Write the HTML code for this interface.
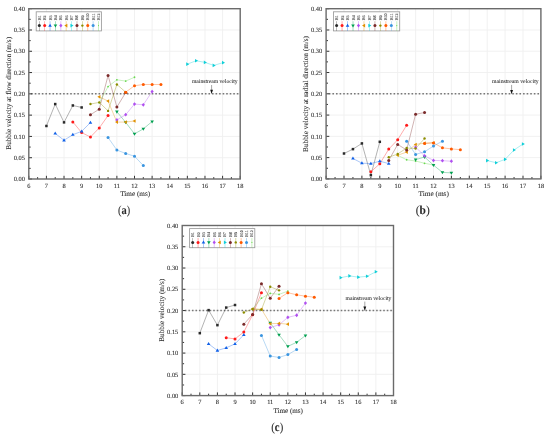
<!DOCTYPE html>
<html><head><meta charset="utf-8"><title>Bubble velocity</title>
<style>
html,body{margin:0;padding:0;background:#fff;width:550px;height:437px;overflow:hidden}
svg{display:block;text-rendering:geometricPrecision;filter:blur(0.35px)}
text{stroke:#2b2b2b;stroke-width:0.08px}
</style></head>
<body><svg width="550" height="437" viewBox="0 0 550 437" font-family="'Liberation Serif','Times New Roman',serif" fill="#2b2b2b" stroke-width="0">
<rect width="550" height="437" fill="#fff"/>
<path d="M46.42 8.7V179M64.03 8.7V179M81.65 8.7V179M99.27 8.7V179M116.88 8.7V179M134.5 8.7V179M152.12 8.7V179M169.73 8.7V179M187.35 8.7V179M204.97 8.7V179M222.58 8.7V179M28.8 157.71H240.2M28.8 136.43H240.2M28.8 115.14H240.2M28.8 93.85H240.2M28.8 72.56H240.2M28.8 51.27H240.2M28.8 29.99H240.2" stroke="#efefef" stroke-width="0.9" fill="none"/>
<line x1="31.2" y1="93.7" x2="238.4" y2="93.7" stroke="#787878" stroke-width="1.5" stroke-dasharray="1.6 1.945"/>
<path d="M46.42 125.99 L55.22 104.07 L64.03 122.38 L72.84 105.47 L81.65 107.47" stroke="#2a2a2a" stroke-width="0.6" fill="none" opacity="0.6"/>
<path d="M72.84 121.95 L81.65 132.59 L90.46 137.02 L99.27 127.91 L108.07 115.56" stroke="#ff1a1a" stroke-width="0.6" fill="none" opacity="0.6"/>
<path d="M55.22 133.44 L64.03 140.26 L72.84 134.72 L81.65 131.32 L90.46 122.59" stroke="#1060e8" stroke-width="0.6" fill="none" opacity="0.6"/>
<path d="M116.88 111.73 L125.69 122.38 L134.5 133.87 L143.31 128.89 L152.12 121.52" stroke="#00a050" stroke-width="0.6" fill="none" opacity="0.6"/>
<path d="M116.88 119.95 L125.69 114.71 L134.5 104.07 L143.31 104.79 L152.12 91.55" stroke="#b050f0" stroke-width="0.6" fill="none" opacity="0.6"/>
<path d="M99.27 96.83 L108.07 101.09 L116.88 122.08 L125.69 122.08 L134.5 120.97" stroke="#e09000" stroke-width="0.6" fill="none" opacity="0.6"/>
<path d="M187.35 64.13 L196.16 60.73 L204.97 62.43 L213.77 65.41 L223.11 62.64" stroke="#10cfd8" stroke-width="0.6" fill="none" opacity="0.6"/>
<path d="M90.46 114.71 L99.27 109.18 L108.07 75.54 L116.88 107.05 L125.69 92.57" stroke="#7a2a2a" stroke-width="0.6" fill="none" opacity="0.6"/>
<path d="M90.46 104.07 L99.27 102.37 L108.07 110.88 L116.88 84.48 L125.69 92.15" stroke="#8c8c00" stroke-width="0.6" fill="none" opacity="0.6"/>
<path d="M125.69 92.15 L134.5 85.76 L143.31 84.48 L152.12 84.48 L160.92 84.48" stroke="#ff5a00" stroke-width="0.6" fill="none" opacity="0.6"/>
<path d="M108.07 137.53 L116.88 150.05 L125.69 153.46 L134.5 156.22 L143.31 165.55" stroke="#3a95e0" stroke-width="0.6" fill="none" opacity="0.6"/>
<path d="M99.27 102.79 L108.07 86.61 L116.88 79.8 L125.69 81.08 L134.5 77.25" stroke="#6ad850" stroke-width="0.6" fill="none" opacity="0.6"/>
<circle cx="99.27" cy="102.79" r="0.9" fill="#6ad850"/>
<circle cx="108.07" cy="86.61" r="0.9" fill="#6ad850"/>
<circle cx="116.88" cy="79.8" r="0.9" fill="#6ad850"/>
<circle cx="125.69" cy="81.08" r="0.9" fill="#6ad850"/>
<circle cx="134.5" cy="77.25" r="0.9" fill="#6ad850"/>
<rect x="45.17" y="124.74" width="2.5" height="2.5" fill="#2a2a2a"/>
<rect x="53.97" y="102.82" width="2.5" height="2.5" fill="#2a2a2a"/>
<rect x="62.78" y="121.13" width="2.5" height="2.5" fill="#2a2a2a"/>
<rect x="71.59" y="104.22" width="2.5" height="2.5" fill="#2a2a2a"/>
<rect x="80.4" y="106.22" width="2.5" height="2.5" fill="#2a2a2a"/>
<circle cx="72.84" cy="121.95" r="1.5" fill="#ff1a1a"/>
<circle cx="81.65" cy="132.59" r="1.5" fill="#ff1a1a"/>
<circle cx="90.46" cy="137.02" r="1.5" fill="#ff1a1a"/>
<circle cx="99.27" cy="127.91" r="1.5" fill="#ff1a1a"/>
<circle cx="108.07" cy="115.56" r="1.5" fill="#ff1a1a"/>
<polygon points="55.22,131.54 57.03,134.58 53.42,134.58" fill="#1060e8"/>
<polygon points="64.03,138.36 65.84,141.4 62.23,141.4" fill="#1060e8"/>
<polygon points="72.84,132.82 74.65,135.86 71.04,135.86" fill="#1060e8"/>
<polygon points="81.65,129.42 83.45,132.46 79.84,132.46" fill="#1060e8"/>
<polygon points="90.46,120.69 92.26,123.73 88.65,123.73" fill="#1060e8"/>
<polygon points="116.88,113.63 118.69,110.59 115.08,110.59" fill="#00a050"/>
<polygon points="125.69,124.28 127.5,121.24 123.89,121.24" fill="#00a050"/>
<polygon points="134.5,135.77 136.31,132.73 132.69,132.73" fill="#00a050"/>
<polygon points="143.31,130.79 145.11,127.75 141.5,127.75" fill="#00a050"/>
<polygon points="152.12,123.42 153.92,120.38 150.31,120.38" fill="#00a050"/>
<polygon points="116.88,118.05 118.5,119.95 116.88,121.85 115.27,119.95" fill="#b050f0"/>
<polygon points="125.69,112.81 127.31,114.71 125.69,116.61 124.08,114.71" fill="#b050f0"/>
<polygon points="134.5,102.17 136.12,104.07 134.5,105.97 132.88,104.07" fill="#b050f0"/>
<polygon points="143.31,102.89 144.92,104.79 143.31,106.69 141.69,104.79" fill="#b050f0"/>
<polygon points="152.12,89.65 153.73,91.55 152.12,93.45 150.5,91.55" fill="#b050f0"/>
<polygon points="97.37,96.83 100.41,95.03 100.41,98.64" fill="#e09000"/>
<polygon points="106.17,101.09 109.21,99.28 109.21,102.89" fill="#e09000"/>
<polygon points="114.98,122.08 118.02,120.27 118.02,123.88" fill="#e09000"/>
<polygon points="123.79,122.08 126.83,120.27 126.83,123.88" fill="#e09000"/>
<polygon points="132.6,120.97 135.64,119.17 135.64,122.78" fill="#e09000"/>
<polygon points="189.25,64.13 186.21,62.33 186.21,65.94" fill="#10cfd8"/>
<polygon points="198.06,60.73 195.02,58.92 195.02,62.53" fill="#10cfd8"/>
<polygon points="206.87,62.43 203.83,60.62 203.83,64.23" fill="#10cfd8"/>
<polygon points="215.67,65.41 212.63,63.6 212.63,67.21" fill="#10cfd8"/>
<polygon points="225.01,62.64 221.97,60.84 221.97,64.45" fill="#10cfd8"/>
<circle cx="90.46" cy="114.71" r="1.5" fill="#7a2a2a"/>
<circle cx="99.27" cy="109.18" r="1.5" fill="#7a2a2a"/>
<circle cx="108.07" cy="75.54" r="1.5" fill="#7a2a2a"/>
<circle cx="116.88" cy="107.05" r="1.5" fill="#7a2a2a"/>
<circle cx="125.69" cy="92.57" r="1.5" fill="#7a2a2a"/>
<circle cx="90.46" cy="104.07" r="1.2" fill="#8c8c00"/>
<circle cx="99.27" cy="102.37" r="1.2" fill="#8c8c00"/>
<circle cx="108.07" cy="110.88" r="1.2" fill="#8c8c00"/>
<circle cx="116.88" cy="84.48" r="1.2" fill="#8c8c00"/>
<circle cx="125.69" cy="92.15" r="1.2" fill="#8c8c00"/>
<circle cx="125.69" cy="92.15" r="1.5" fill="#ff5a00"/>
<circle cx="134.5" cy="85.76" r="1.5" fill="#ff5a00"/>
<circle cx="143.31" cy="84.48" r="1.5" fill="#ff5a00"/>
<circle cx="152.12" cy="84.48" r="1.5" fill="#ff5a00"/>
<circle cx="160.92" cy="84.48" r="1.5" fill="#ff5a00"/>
<circle cx="108.07" cy="137.53" r="1.5" fill="#3a95e0"/>
<circle cx="116.88" cy="150.05" r="1.5" fill="#3a95e0"/>
<circle cx="125.69" cy="153.46" r="1.5" fill="#3a95e0"/>
<circle cx="134.5" cy="156.22" r="1.5" fill="#3a95e0"/>
<circle cx="143.31" cy="165.55" r="1.5" fill="#3a95e0"/>
<path d="M28.8 179V175.8M37.61 179V177.1M46.42 179V175.8M55.22 179V177.1M64.03 179V175.8M72.84 179V177.1M81.65 179V175.8M90.46 179V177.1M99.27 179V175.8M108.07 179V177.1M116.88 179V175.8M125.69 179V177.1M134.5 179V175.8M143.31 179V177.1M152.12 179V175.8M160.92 179V177.1M169.73 179V175.8M178.54 179V177.1M187.35 179V175.8M196.16 179V177.1M204.97 179V175.8M213.77 179V177.1M222.58 179V175.8M231.39 179V177.1M240.2 179V175.8M28.8 179H32M28.8 168.36H30.7M28.8 157.71H32M28.8 147.07H30.7M28.8 136.43H32M28.8 125.78H30.7M28.8 115.14H32M28.8 104.49H30.7M28.8 93.85H32M28.8 83.21H30.7M28.8 72.56H32M28.8 61.92H30.7M28.8 51.27H32M28.8 40.63H30.7M28.8 29.99H32M28.8 19.34H30.7M28.8 8.7H32" stroke="#2a2a2a" stroke-width="0.95" fill="none"/>
<rect x="28.8" y="8.7" width="211.4" height="170.3" fill="none" stroke="#6a6a6a" stroke-width="1.4"/>
<text x="24.9" y="181.2" text-anchor="end" font-size="6.4">0.00</text>
<text x="24.9" y="159.91" text-anchor="end" font-size="6.4">0.05</text>
<text x="24.9" y="138.62" text-anchor="end" font-size="6.4">0.10</text>
<text x="24.9" y="117.34" text-anchor="end" font-size="6.4">0.15</text>
<text x="24.9" y="96.05" text-anchor="end" font-size="6.4">0.20</text>
<text x="24.9" y="74.76" text-anchor="end" font-size="6.4">0.25</text>
<text x="24.9" y="53.47" text-anchor="end" font-size="6.4">0.30</text>
<text x="24.9" y="32.19" text-anchor="end" font-size="6.4">0.35</text>
<text x="24.9" y="10.9" text-anchor="end" font-size="6.4">0.40</text>
<text x="28.8" y="187.6" text-anchor="middle" font-size="6.4">6</text>
<text x="46.42" y="187.6" text-anchor="middle" font-size="6.4">7</text>
<text x="64.03" y="187.6" text-anchor="middle" font-size="6.4">8</text>
<text x="81.65" y="187.6" text-anchor="middle" font-size="6.4">9</text>
<text x="99.27" y="187.6" text-anchor="middle" font-size="6.4">10</text>
<text x="116.88" y="187.6" text-anchor="middle" font-size="6.4">11</text>
<text x="134.5" y="187.6" text-anchor="middle" font-size="6.4">12</text>
<text x="152.12" y="187.6" text-anchor="middle" font-size="6.4">13</text>
<text x="169.73" y="187.6" text-anchor="middle" font-size="6.4">14</text>
<text x="187.35" y="187.6" text-anchor="middle" font-size="6.4">15</text>
<text x="204.97" y="187.6" text-anchor="middle" font-size="6.4">16</text>
<text x="222.58" y="187.6" text-anchor="middle" font-size="6.4">17</text>
<text x="240.2" y="187.6" text-anchor="middle" font-size="6.4">18</text>
<text transform="translate(10.9,149.7) rotate(-90)" font-size="7.3" textLength="112.8" lengthAdjust="spacingAndGlyphs">Bubble velocity at flow direction (m/s)</text>
<text x="120.2" y="196" font-size="7.2" textLength="30" lengthAdjust="spacingAndGlyphs">Time (ms)</text>
<text x="118" y="214.4" font-size="12.2" textLength="12.1" lengthAdjust="spacingAndGlyphs">(<tspan font-weight="bold">a</tspan>)</text>
<text x="192" y="83" font-size="5.7" style="stroke-width:0.06px" textLength="45.6" lengthAdjust="spacingAndGlyphs">mainstream velocity</text>
<line x1="211.6" y1="85" x2="211.6" y2="90.7" stroke="#8a8a8a" stroke-width="0.75"/>
<path d="M210.2 89.8L213 89.8L211.6 94.1Z" fill="#151515"/>
<rect x="36.2" y="11.8" width="65.2" height="19.1" fill="#fff" stroke="#9a9a9a" stroke-width="0.85"/>
<line x1="39.3" y1="21.2" x2="39.3" y2="30.9" stroke="#2a2a2a" stroke-width="0.6" opacity="0.6"/>
<circle cx="39.3" cy="25.6" r="1.5" fill="#2a2a2a"/>
<text transform="translate(40.8,20.3) rotate(-90)" font-size="4.2" fill="#444">B1</text>
<line x1="44.68" y1="21.2" x2="44.68" y2="30.9" stroke="#ff1a1a" stroke-width="0.6" opacity="0.6"/>
<circle cx="44.68" cy="25.6" r="1.5" fill="#ff1a1a"/>
<text transform="translate(46.18,20.3) rotate(-90)" font-size="4.2" fill="#444">B2</text>
<line x1="50.06" y1="21.2" x2="50.06" y2="30.9" stroke="#1060e8" stroke-width="0.6" opacity="0.6"/>
<polygon points="50.06,23.7 51.87,26.74 48.26,26.74" fill="#1060e8"/>
<text transform="translate(51.56,20.3) rotate(-90)" font-size="4.2" fill="#444">B3</text>
<line x1="55.45" y1="21.2" x2="55.45" y2="30.9" stroke="#00a050" stroke-width="0.6" opacity="0.6"/>
<polygon points="55.45,27.5 57.25,24.46 53.64,24.46" fill="#00a050"/>
<text transform="translate(56.95,20.3) rotate(-90)" font-size="4.2" fill="#444">B4</text>
<line x1="60.83" y1="21.2" x2="60.83" y2="30.9" stroke="#b050f0" stroke-width="0.6" opacity="0.6"/>
<polygon points="60.83,23.7 62.44,25.6 60.83,27.5 59.21,25.6" fill="#b050f0"/>
<text transform="translate(62.33,20.3) rotate(-90)" font-size="4.2" fill="#444">B5</text>
<line x1="66.21" y1="21.2" x2="66.21" y2="30.9" stroke="#e09000" stroke-width="0.6" opacity="0.6"/>
<polygon points="64.31,25.6 67.35,23.8 67.35,27.41" fill="#e09000"/>
<text transform="translate(67.71,20.3) rotate(-90)" font-size="4.2" fill="#444">B6</text>
<line x1="71.59" y1="21.2" x2="71.59" y2="30.9" stroke="#10cfd8" stroke-width="0.6" opacity="0.6"/>
<polygon points="73.49,25.6 70.45,23.8 70.45,27.41" fill="#10cfd8"/>
<text transform="translate(73.09,20.3) rotate(-90)" font-size="4.2" fill="#444">B7</text>
<line x1="76.97" y1="21.2" x2="76.97" y2="30.9" stroke="#7a2a2a" stroke-width="0.6" opacity="0.6"/>
<circle cx="76.97" cy="25.6" r="1.5" fill="#7a2a2a"/>
<text transform="translate(78.47,20.3) rotate(-90)" font-size="4.2" fill="#444">B8</text>
<line x1="82.35" y1="21.2" x2="82.35" y2="30.9" stroke="#8c8c00" stroke-width="0.6" opacity="0.6"/>
<circle cx="82.35" cy="25.6" r="1.2" fill="#8c8c00"/>
<text transform="translate(83.85,20.3) rotate(-90)" font-size="4.2" fill="#444">B9</text>
<line x1="87.74" y1="21.2" x2="87.74" y2="30.9" stroke="#ff5a00" stroke-width="0.6" opacity="0.6"/>
<circle cx="87.74" cy="25.6" r="1.5" fill="#ff5a00"/>
<text transform="translate(89.24,20.3) rotate(-90)" font-size="4.2" fill="#444">B10</text>
<line x1="93.12" y1="21.2" x2="93.12" y2="30.9" stroke="#3a95e0" stroke-width="0.6" opacity="0.6"/>
<circle cx="93.12" cy="25.6" r="1.5" fill="#3a95e0"/>
<text transform="translate(94.62,20.3) rotate(-90)" font-size="4.2" fill="#444">B11</text>
<line x1="98.5" y1="21.2" x2="98.5" y2="30.9" stroke="#6ad850" stroke-width="0.6" opacity="0.6"/>
<circle cx="98.5" cy="25.6" r="0.54" fill="#6ad850"/>
<text transform="translate(100,20.3) rotate(-90)" font-size="4.2" fill="#444">B12</text>
<path d="M344 8.7V178.9M361.9 8.7V178.9M379.8 8.7V178.9M397.7 8.7V178.9M415.6 8.7V178.9M433.5 8.7V178.9M451.4 8.7V178.9M469.3 8.7V178.9M487.2 8.7V178.9M505.1 8.7V178.9M523 8.7V178.9M326.1 157.62H540.9M326.1 136.35H540.9M326.1 115.07H540.9M326.1 93.8H540.9M326.1 72.53H540.9M326.1 51.25H540.9M326.1 29.97H540.9" stroke="#efefef" stroke-width="0.9" fill="none"/>
<line x1="328.8" y1="93.8" x2="539" y2="93.8" stroke="#787878" stroke-width="1.5" stroke-dasharray="1.6 1.997"/>
<path d="M344 153.5 L352.95 149.12 L361.9 143.41 L370.85 175.2 L379.8 141.8" stroke="#2a2a2a" stroke-width="0.6" fill="none" opacity="0.6"/>
<path d="M370.85 171.79 L379.8 163.79 L388.75 149.12 L397.7 139.75 L406.65 125.29" stroke="#ff1a1a" stroke-width="0.6" fill="none" opacity="0.6"/>
<path d="M352.95 158.48 L361.9 163.16 L370.85 163.58 L379.8 161.2 L388.75 163.58" stroke="#1060e8" stroke-width="0.6" fill="none" opacity="0.6"/>
<path d="M415.6 159.67 L424.55 156.99 L433.5 165.16 L442.45 172.39 L451.4 172.86" stroke="#00a050" stroke-width="0.6" fill="none" opacity="0.6"/>
<path d="M415.6 147.2 L424.55 155.8 L433.5 160.39 L442.45 160.69 L451.4 161.2" stroke="#b050f0" stroke-width="0.6" fill="none" opacity="0.6"/>
<path d="M397.7 155.28 L406.65 152.09 L415.6 144.43 L424.55 143.16 L433.5 142.73" stroke="#e09000" stroke-width="0.6" fill="none" opacity="0.6"/>
<path d="M487.2 160.6 L496.15 162.73 L505.1 159.33 L514.05 149.97 L523 144.01" stroke="#10cfd8" stroke-width="0.6" fill="none" opacity="0.6"/>
<path d="M388.75 160.39 L397.7 144.43 L406.65 149.97 L415.6 114.22 L424.55 112.52" stroke="#7a2a2a" stroke-width="0.6" fill="none" opacity="0.6"/>
<path d="M388.75 157.2 L397.7 154.01 L406.65 148.01 L415.6 148.52 L424.55 138.48" stroke="#8c8c00" stroke-width="0.6" fill="none" opacity="0.6"/>
<path d="M424.55 143.5 L433.5 142.9 L442.45 147.84 L451.4 148.9 L460.35 149.71" stroke="#ff5a00" stroke-width="0.6" fill="none" opacity="0.6"/>
<path d="M406.65 141.2 L415.6 154.39 L424.55 151.8 L433.5 146.01 L442.45 141.2" stroke="#3a95e0" stroke-width="0.6" fill="none" opacity="0.6"/>
<path d="M397.7 155.28 L406.65 159.75 L415.6 161.03 L424.55 163.28 L433.5 164.99" stroke="#6ad850" stroke-width="0.6" fill="none" opacity="0.6"/>
<circle cx="397.7" cy="155.28" r="0.9" fill="#6ad850"/>
<circle cx="406.65" cy="159.75" r="0.9" fill="#6ad850"/>
<circle cx="415.6" cy="161.03" r="0.9" fill="#6ad850"/>
<circle cx="424.55" cy="163.28" r="0.9" fill="#6ad850"/>
<circle cx="433.5" cy="164.99" r="0.9" fill="#6ad850"/>
<rect x="342.75" y="152.25" width="2.5" height="2.5" fill="#2a2a2a"/>
<rect x="351.7" y="147.87" width="2.5" height="2.5" fill="#2a2a2a"/>
<rect x="360.65" y="142.16" width="2.5" height="2.5" fill="#2a2a2a"/>
<rect x="369.6" y="173.95" width="2.5" height="2.5" fill="#2a2a2a"/>
<rect x="378.55" y="140.55" width="2.5" height="2.5" fill="#2a2a2a"/>
<circle cx="370.85" cy="171.79" r="1.5" fill="#ff1a1a"/>
<circle cx="379.8" cy="163.79" r="1.5" fill="#ff1a1a"/>
<circle cx="388.75" cy="149.12" r="1.5" fill="#ff1a1a"/>
<circle cx="397.7" cy="139.75" r="1.5" fill="#ff1a1a"/>
<circle cx="406.65" cy="125.29" r="1.5" fill="#ff1a1a"/>
<polygon points="352.95,156.58 354.76,159.62 351.15,159.62" fill="#1060e8"/>
<polygon points="361.9,161.26 363.71,164.3 360.1,164.3" fill="#1060e8"/>
<polygon points="370.85,161.68 372.66,164.72 369.05,164.72" fill="#1060e8"/>
<polygon points="379.8,159.3 381.61,162.34 378,162.34" fill="#1060e8"/>
<polygon points="388.75,161.68 390.56,164.72 386.94,164.72" fill="#1060e8"/>
<polygon points="415.6,161.57 417.41,158.53 413.8,158.53" fill="#00a050"/>
<polygon points="424.55,158.89 426.36,155.85 422.75,155.85" fill="#00a050"/>
<polygon points="433.5,167.06 435.31,164.02 431.69,164.02" fill="#00a050"/>
<polygon points="442.45,174.29 444.25,171.25 440.64,171.25" fill="#00a050"/>
<polygon points="451.4,174.76 453.2,171.72 449.59,171.72" fill="#00a050"/>
<polygon points="415.6,145.3 417.22,147.2 415.6,149.1 413.99,147.2" fill="#b050f0"/>
<polygon points="424.55,153.9 426.17,155.8 424.55,157.7 422.94,155.8" fill="#b050f0"/>
<polygon points="433.5,158.49 435.12,160.39 433.5,162.29 431.88,160.39" fill="#b050f0"/>
<polygon points="442.45,158.79 444.06,160.69 442.45,162.59 440.83,160.69" fill="#b050f0"/>
<polygon points="451.4,159.3 453.01,161.2 451.4,163.1 449.78,161.2" fill="#b050f0"/>
<polygon points="395.8,155.28 398.84,153.48 398.84,157.09" fill="#e09000"/>
<polygon points="404.75,152.09 407.79,150.29 407.79,153.9" fill="#e09000"/>
<polygon points="413.7,144.43 416.74,142.63 416.74,146.24" fill="#e09000"/>
<polygon points="422.65,143.16 425.69,141.35 425.69,144.96" fill="#e09000"/>
<polygon points="431.6,142.73 434.64,140.93 434.64,144.54" fill="#e09000"/>
<polygon points="489.1,160.6 486.06,158.8 486.06,162.41" fill="#10cfd8"/>
<polygon points="498.05,162.73 495.01,160.93 495.01,164.54" fill="#10cfd8"/>
<polygon points="507,159.33 503.96,157.52 503.96,161.13" fill="#10cfd8"/>
<polygon points="515.95,149.97 512.91,148.16 512.91,151.77" fill="#10cfd8"/>
<polygon points="524.9,144.01 521.86,142.2 521.86,145.81" fill="#10cfd8"/>
<circle cx="388.75" cy="160.39" r="1.5" fill="#7a2a2a"/>
<circle cx="397.7" cy="144.43" r="1.5" fill="#7a2a2a"/>
<circle cx="406.65" cy="149.97" r="1.5" fill="#7a2a2a"/>
<circle cx="415.6" cy="114.22" r="1.5" fill="#7a2a2a"/>
<circle cx="424.55" cy="112.52" r="1.5" fill="#7a2a2a"/>
<circle cx="388.75" cy="157.2" r="1.2" fill="#8c8c00"/>
<circle cx="397.7" cy="154.01" r="1.2" fill="#8c8c00"/>
<circle cx="406.65" cy="148.01" r="1.2" fill="#8c8c00"/>
<circle cx="415.6" cy="148.52" r="1.2" fill="#8c8c00"/>
<circle cx="424.55" cy="138.48" r="1.2" fill="#8c8c00"/>
<circle cx="424.55" cy="143.5" r="1.5" fill="#ff5a00"/>
<circle cx="433.5" cy="142.9" r="1.5" fill="#ff5a00"/>
<circle cx="442.45" cy="147.84" r="1.5" fill="#ff5a00"/>
<circle cx="451.4" cy="148.9" r="1.5" fill="#ff5a00"/>
<circle cx="460.35" cy="149.71" r="1.5" fill="#ff5a00"/>
<circle cx="406.65" cy="141.2" r="1.5" fill="#3a95e0"/>
<circle cx="415.6" cy="154.39" r="1.5" fill="#3a95e0"/>
<circle cx="424.55" cy="151.8" r="1.5" fill="#3a95e0"/>
<circle cx="433.5" cy="146.01" r="1.5" fill="#3a95e0"/>
<circle cx="442.45" cy="141.2" r="1.5" fill="#3a95e0"/>
<path d="M326.1 178.9V175.7M335.05 178.9V177M344 178.9V175.7M352.95 178.9V177M361.9 178.9V175.7M370.85 178.9V177M379.8 178.9V175.7M388.75 178.9V177M397.7 178.9V175.7M406.65 178.9V177M415.6 178.9V175.7M424.55 178.9V177M433.5 178.9V175.7M442.45 178.9V177M451.4 178.9V175.7M460.35 178.9V177M469.3 178.9V175.7M478.25 178.9V177M487.2 178.9V175.7M496.15 178.9V177M505.1 178.9V175.7M514.05 178.9V177M523 178.9V175.7M531.95 178.9V177M540.9 178.9V175.7M326.1 178.9H329.3M326.1 168.26H328M326.1 157.62H329.3M326.1 146.99H328M326.1 136.35H329.3M326.1 125.71H328M326.1 115.07H329.3M326.1 104.44H328M326.1 93.8H329.3M326.1 83.16H328M326.1 72.53H329.3M326.1 61.89H328M326.1 51.25H329.3M326.1 40.61H328M326.1 29.97H329.3M326.1 19.34H328M326.1 8.7H329.3" stroke="#2a2a2a" stroke-width="0.95" fill="none"/>
<rect x="326.1" y="8.7" width="214.8" height="170.2" fill="none" stroke="#6a6a6a" stroke-width="1.4"/>
<text x="322.2" y="181.1" text-anchor="end" font-size="6.4">0.00</text>
<text x="322.2" y="159.82" text-anchor="end" font-size="6.4">0.05</text>
<text x="322.2" y="138.55" text-anchor="end" font-size="6.4">0.10</text>
<text x="322.2" y="117.27" text-anchor="end" font-size="6.4">0.15</text>
<text x="322.2" y="96" text-anchor="end" font-size="6.4">0.20</text>
<text x="322.2" y="74.73" text-anchor="end" font-size="6.4">0.25</text>
<text x="322.2" y="53.45" text-anchor="end" font-size="6.4">0.30</text>
<text x="322.2" y="32.17" text-anchor="end" font-size="6.4">0.35</text>
<text x="322.2" y="10.9" text-anchor="end" font-size="6.4">0.40</text>
<text x="326.1" y="187.5" text-anchor="middle" font-size="6.4">6</text>
<text x="344" y="187.5" text-anchor="middle" font-size="6.4">7</text>
<text x="361.9" y="187.5" text-anchor="middle" font-size="6.4">8</text>
<text x="379.8" y="187.5" text-anchor="middle" font-size="6.4">9</text>
<text x="397.7" y="187.5" text-anchor="middle" font-size="6.4">10</text>
<text x="415.6" y="187.5" text-anchor="middle" font-size="6.4">11</text>
<text x="433.5" y="187.5" text-anchor="middle" font-size="6.4">12</text>
<text x="451.4" y="187.5" text-anchor="middle" font-size="6.4">13</text>
<text x="469.3" y="187.5" text-anchor="middle" font-size="6.4">14</text>
<text x="487.2" y="187.5" text-anchor="middle" font-size="6.4">15</text>
<text x="505.1" y="187.5" text-anchor="middle" font-size="6.4">16</text>
<text x="523" y="187.5" text-anchor="middle" font-size="6.4">17</text>
<text x="540.9" y="187.5" text-anchor="middle" font-size="6.4">18</text>
<text transform="translate(307.9,151.9) rotate(-90)" font-size="7.3" textLength="115.9" lengthAdjust="spacingAndGlyphs">Bubble velocity at radial direction (m/s)</text>
<text x="418.5" y="195.9" font-size="7.2" textLength="30.4" lengthAdjust="spacingAndGlyphs">Time (ms)</text>
<text x="415.8" y="214.2" font-size="12.2" textLength="14" lengthAdjust="spacingAndGlyphs">(<tspan font-weight="bold">b</tspan>)</text>
<text x="492.1" y="82.9" font-size="5.7" style="stroke-width:0.06px" textLength="46.6" lengthAdjust="spacingAndGlyphs">mainstream velocity</text>
<line x1="511.6" y1="84.9" x2="511.6" y2="90.8" stroke="#8a8a8a" stroke-width="0.75"/>
<path d="M510.2 89.9L513 89.9L511.6 94.2Z" fill="#151515"/>
<rect x="333.5" y="11.8" width="66.2" height="19.1" fill="#fff" stroke="#9a9a9a" stroke-width="0.85"/>
<line x1="336.6" y1="21.2" x2="336.6" y2="30.9" stroke="#2a2a2a" stroke-width="0.6" opacity="0.6"/>
<circle cx="336.6" cy="25.6" r="1.5" fill="#2a2a2a"/>
<text transform="translate(338.1,20.3) rotate(-90)" font-size="4.2" fill="#444">B1</text>
<line x1="342.07" y1="21.2" x2="342.07" y2="30.9" stroke="#ff1a1a" stroke-width="0.6" opacity="0.6"/>
<circle cx="342.07" cy="25.6" r="1.5" fill="#ff1a1a"/>
<text transform="translate(343.57,20.3) rotate(-90)" font-size="4.2" fill="#444">B2</text>
<line x1="347.55" y1="21.2" x2="347.55" y2="30.9" stroke="#1060e8" stroke-width="0.6" opacity="0.6"/>
<polygon points="347.55,23.7 349.35,26.74 345.74,26.74" fill="#1060e8"/>
<text transform="translate(349.05,20.3) rotate(-90)" font-size="4.2" fill="#444">B3</text>
<line x1="353.02" y1="21.2" x2="353.02" y2="30.9" stroke="#00a050" stroke-width="0.6" opacity="0.6"/>
<polygon points="353.02,27.5 354.82,24.46 351.21,24.46" fill="#00a050"/>
<text transform="translate(354.52,20.3) rotate(-90)" font-size="4.2" fill="#444">B4</text>
<line x1="358.49" y1="21.2" x2="358.49" y2="30.9" stroke="#b050f0" stroke-width="0.6" opacity="0.6"/>
<polygon points="358.49,23.7 360.11,25.6 358.49,27.5 356.88,25.6" fill="#b050f0"/>
<text transform="translate(359.99,20.3) rotate(-90)" font-size="4.2" fill="#444">B5</text>
<line x1="363.96" y1="21.2" x2="363.96" y2="30.9" stroke="#e09000" stroke-width="0.6" opacity="0.6"/>
<polygon points="362.06,25.6 365.1,23.8 365.1,27.41" fill="#e09000"/>
<text transform="translate(365.46,20.3) rotate(-90)" font-size="4.2" fill="#444">B6</text>
<line x1="369.44" y1="21.2" x2="369.44" y2="30.9" stroke="#10cfd8" stroke-width="0.6" opacity="0.6"/>
<polygon points="371.34,25.6 368.3,23.8 368.3,27.41" fill="#10cfd8"/>
<text transform="translate(370.94,20.3) rotate(-90)" font-size="4.2" fill="#444">B7</text>
<line x1="374.91" y1="21.2" x2="374.91" y2="30.9" stroke="#7a2a2a" stroke-width="0.6" opacity="0.6"/>
<circle cx="374.91" cy="25.6" r="1.5" fill="#7a2a2a"/>
<text transform="translate(376.41,20.3) rotate(-90)" font-size="4.2" fill="#444">B8</text>
<line x1="380.38" y1="21.2" x2="380.38" y2="30.9" stroke="#8c8c00" stroke-width="0.6" opacity="0.6"/>
<circle cx="380.38" cy="25.6" r="1.2" fill="#8c8c00"/>
<text transform="translate(381.88,20.3) rotate(-90)" font-size="4.2" fill="#444">B9</text>
<line x1="385.85" y1="21.2" x2="385.85" y2="30.9" stroke="#ff5a00" stroke-width="0.6" opacity="0.6"/>
<circle cx="385.85" cy="25.6" r="1.5" fill="#ff5a00"/>
<text transform="translate(387.35,20.3) rotate(-90)" font-size="4.2" fill="#444">B10</text>
<line x1="391.33" y1="21.2" x2="391.33" y2="30.9" stroke="#3a95e0" stroke-width="0.6" opacity="0.6"/>
<circle cx="391.33" cy="25.6" r="1.5" fill="#3a95e0"/>
<text transform="translate(392.83,20.3) rotate(-90)" font-size="4.2" fill="#444">B11</text>
<line x1="396.8" y1="21.2" x2="396.8" y2="30.9" stroke="#6ad850" stroke-width="0.6" opacity="0.6"/>
<circle cx="396.8" cy="25.6" r="0.54" fill="#6ad850"/>
<text transform="translate(398.3,20.3) rotate(-90)" font-size="4.2" fill="#444">B12</text>
<path d="M199.81 225.5V395.6M217.42 225.5V395.6M235.02 225.5V395.6M252.63 225.5V395.6M270.24 225.5V395.6M287.85 225.5V395.6M305.46 225.5V395.6M323.07 225.5V395.6M340.68 225.5V395.6M358.28 225.5V395.6M375.89 225.5V395.6M182.2 374.34H393.5M182.2 353.08H393.5M182.2 331.81H393.5M182.2 310.55H393.5M182.2 289.29H393.5M182.2 268.02H393.5M182.2 246.76H393.5" stroke="#efefef" stroke-width="0.9" fill="none"/>
<line x1="184.85" y1="310.5" x2="391.9" y2="310.5" stroke="#787878" stroke-width="1.5" stroke-dasharray="1.6 1.942"/>
<path d="M199.81 333.17 L208.61 310.12 L217.42 325.18 L226.22 307.57 L235.02 305.02" stroke="#2a2a2a" stroke-width="0.6" fill="none" opacity="0.6"/>
<path d="M226.22 337.77 L235.02 338.91 L243.83 331.98 L252.63 314.8 L261.44 292.69" stroke="#ff1a1a" stroke-width="0.6" fill="none" opacity="0.6"/>
<path d="M208.61 343.89 L217.42 350.52 L226.22 347.8 L235.02 343.89 L243.83 334.79" stroke="#1060e8" stroke-width="0.6" fill="none" opacity="0.6"/>
<path d="M270.24 322.88 L279.05 334.79 L287.85 346.4 L296.65 342.27 L305.46 335.64" stroke="#00a050" stroke-width="0.6" fill="none" opacity="0.6"/>
<path d="M270.24 327.56 L279.05 324.8 L287.85 317.35 L296.65 315.23 L305.46 303.11" stroke="#b050f0" stroke-width="0.6" fill="none" opacity="0.6"/>
<path d="M252.63 309.1 L261.44 309.19 L270.24 323.73 L279.05 323.39 L287.85 324.16" stroke="#e09000" stroke-width="0.6" fill="none" opacity="0.6"/>
<path d="M340.68 277.68 L349.48 275.89 L358.28 277.17 L367.09 276.27 L375.89 271.77" stroke="#10cfd8" stroke-width="0.6" fill="none" opacity="0.6"/>
<path d="M243.83 324.16 L252.63 314.38 L261.44 283.76 L270.24 298.22 L279.05 286.31" stroke="#7a2a2a" stroke-width="0.6" fill="none" opacity="0.6"/>
<path d="M243.83 312.46 L252.63 309.02 L261.44 309.7 L270.24 286.74 L279.05 290.35" stroke="#8c8c00" stroke-width="0.6" fill="none" opacity="0.6"/>
<path d="M279.05 298.39 L287.85 292.69 L296.65 294.82 L305.46 296.18 L314.26 297.2" stroke="#ff5a00" stroke-width="0.6" fill="none" opacity="0.6"/>
<path d="M261.44 335.38 L270.24 356.05 L279.05 357.41 L287.85 354.61 L296.65 349.5" stroke="#3a95e0" stroke-width="0.6" fill="none" opacity="0.6"/>
<path d="M252.63 309.02 L261.44 298.22 L270.24 293.33 L279.05 294.39 L287.85 291.12" stroke="#6ad850" stroke-width="0.6" fill="none" opacity="0.6"/>
<circle cx="252.63" cy="309.02" r="0.9" fill="#6ad850"/>
<circle cx="261.44" cy="298.22" r="0.9" fill="#6ad850"/>
<circle cx="270.24" cy="293.33" r="0.9" fill="#6ad850"/>
<circle cx="279.05" cy="294.39" r="0.9" fill="#6ad850"/>
<circle cx="287.85" cy="291.12" r="0.9" fill="#6ad850"/>
<rect x="198.56" y="331.92" width="2.5" height="2.5" fill="#2a2a2a"/>
<rect x="207.36" y="308.87" width="2.5" height="2.5" fill="#2a2a2a"/>
<rect x="216.17" y="323.93" width="2.5" height="2.5" fill="#2a2a2a"/>
<rect x="224.97" y="306.32" width="2.5" height="2.5" fill="#2a2a2a"/>
<rect x="233.77" y="303.77" width="2.5" height="2.5" fill="#2a2a2a"/>
<circle cx="226.22" cy="337.77" r="1.5" fill="#ff1a1a"/>
<circle cx="235.02" cy="338.91" r="1.5" fill="#ff1a1a"/>
<circle cx="243.83" cy="331.98" r="1.5" fill="#ff1a1a"/>
<circle cx="252.63" cy="314.8" r="1.5" fill="#ff1a1a"/>
<circle cx="261.44" cy="292.69" r="1.5" fill="#ff1a1a"/>
<polygon points="208.61,341.99 210.42,345.03 206.81,345.03" fill="#1060e8"/>
<polygon points="217.42,348.62 219.22,351.66 215.61,351.66" fill="#1060e8"/>
<polygon points="226.22,345.9 228.03,348.94 224.42,348.94" fill="#1060e8"/>
<polygon points="235.02,341.99 236.83,345.03 233.22,345.03" fill="#1060e8"/>
<polygon points="243.83,332.89 245.63,335.93 242.02,335.93" fill="#1060e8"/>
<polygon points="270.24,324.78 272.05,321.74 268.44,321.74" fill="#00a050"/>
<polygon points="279.05,336.69 280.85,333.65 277.24,333.65" fill="#00a050"/>
<polygon points="287.85,348.3 289.66,345.26 286.05,345.26" fill="#00a050"/>
<polygon points="296.65,344.17 298.46,341.13 294.85,341.13" fill="#00a050"/>
<polygon points="305.46,337.54 307.26,334.5 303.65,334.5" fill="#00a050"/>
<polygon points="270.24,325.66 271.86,327.56 270.24,329.46 268.63,327.56" fill="#b050f0"/>
<polygon points="279.05,322.9 280.66,324.8 279.05,326.7 277.43,324.8" fill="#b050f0"/>
<polygon points="287.85,315.45 289.47,317.35 287.85,319.25 286.24,317.35" fill="#b050f0"/>
<polygon points="296.65,313.33 298.27,315.23 296.65,317.13 295.04,315.23" fill="#b050f0"/>
<polygon points="305.46,301.21 307.07,303.11 305.46,305.01 303.84,303.11" fill="#b050f0"/>
<polygon points="250.73,309.1 253.77,307.3 253.77,310.91" fill="#e09000"/>
<polygon points="259.54,309.19 262.58,307.38 262.58,310.99" fill="#e09000"/>
<polygon points="268.34,323.73 271.38,321.93 271.38,325.54" fill="#e09000"/>
<polygon points="277.15,323.39 280.19,321.59 280.19,325.2" fill="#e09000"/>
<polygon points="285.95,324.16 288.99,322.35 288.99,325.96" fill="#e09000"/>
<polygon points="342.57,277.68 339.54,275.87 339.54,279.48" fill="#10cfd8"/>
<polygon points="351.38,275.89 348.34,274.09 348.34,277.7" fill="#10cfd8"/>
<polygon points="360.18,277.17 357.14,275.36 357.14,278.97" fill="#10cfd8"/>
<polygon points="368.99,276.27 365.95,274.47 365.95,278.08" fill="#10cfd8"/>
<polygon points="377.79,271.77 374.75,269.96 374.75,273.57" fill="#10cfd8"/>
<circle cx="243.83" cy="324.16" r="1.5" fill="#7a2a2a"/>
<circle cx="252.63" cy="314.38" r="1.5" fill="#7a2a2a"/>
<circle cx="261.44" cy="283.76" r="1.5" fill="#7a2a2a"/>
<circle cx="270.24" cy="298.22" r="1.5" fill="#7a2a2a"/>
<circle cx="279.05" cy="286.31" r="1.5" fill="#7a2a2a"/>
<circle cx="243.83" cy="312.46" r="1.2" fill="#8c8c00"/>
<circle cx="252.63" cy="309.02" r="1.2" fill="#8c8c00"/>
<circle cx="261.44" cy="309.7" r="1.2" fill="#8c8c00"/>
<circle cx="270.24" cy="286.74" r="1.2" fill="#8c8c00"/>
<circle cx="279.05" cy="290.35" r="1.2" fill="#8c8c00"/>
<circle cx="279.05" cy="298.39" r="1.5" fill="#ff5a00"/>
<circle cx="287.85" cy="292.69" r="1.5" fill="#ff5a00"/>
<circle cx="296.65" cy="294.82" r="1.5" fill="#ff5a00"/>
<circle cx="305.46" cy="296.18" r="1.5" fill="#ff5a00"/>
<circle cx="314.26" cy="297.2" r="1.5" fill="#ff5a00"/>
<circle cx="261.44" cy="335.38" r="1.5" fill="#3a95e0"/>
<circle cx="270.24" cy="356.05" r="1.5" fill="#3a95e0"/>
<circle cx="279.05" cy="357.41" r="1.5" fill="#3a95e0"/>
<circle cx="287.85" cy="354.61" r="1.5" fill="#3a95e0"/>
<circle cx="296.65" cy="349.5" r="1.5" fill="#3a95e0"/>
<path d="M182.2 395.6V392.4M191 395.6V393.7M199.81 395.6V392.4M208.61 395.6V393.7M217.42 395.6V392.4M226.22 395.6V393.7M235.02 395.6V392.4M243.83 395.6V393.7M252.63 395.6V392.4M261.44 395.6V393.7M270.24 395.6V392.4M279.05 395.6V393.7M287.85 395.6V392.4M296.65 395.6V393.7M305.46 395.6V392.4M314.26 395.6V393.7M323.07 395.6V392.4M331.87 395.6V393.7M340.68 395.6V392.4M349.48 395.6V393.7M358.28 395.6V392.4M367.09 395.6V393.7M375.89 395.6V392.4M384.7 395.6V393.7M393.5 395.6V392.4M182.2 395.6H185.4M182.2 384.97H184.1M182.2 374.34H185.4M182.2 363.71H184.1M182.2 353.08H185.4M182.2 342.44H184.1M182.2 331.81H185.4M182.2 321.18H184.1M182.2 310.55H185.4M182.2 299.92H184.1M182.2 289.29H185.4M182.2 278.66H184.1M182.2 268.02H185.4M182.2 257.39H184.1M182.2 246.76H185.4M182.2 236.13H184.1M182.2 225.5H185.4" stroke="#2a2a2a" stroke-width="0.95" fill="none"/>
<rect x="182.2" y="225.5" width="211.3" height="170.1" fill="none" stroke="#6a6a6a" stroke-width="1.4"/>
<text x="178.3" y="397.8" text-anchor="end" font-size="6.4">0.00</text>
<text x="178.3" y="376.54" text-anchor="end" font-size="6.4">0.05</text>
<text x="178.3" y="355.28" text-anchor="end" font-size="6.4">0.10</text>
<text x="178.3" y="334.01" text-anchor="end" font-size="6.4">0.15</text>
<text x="178.3" y="312.75" text-anchor="end" font-size="6.4">0.20</text>
<text x="178.3" y="291.49" text-anchor="end" font-size="6.4">0.25</text>
<text x="178.3" y="270.22" text-anchor="end" font-size="6.4">0.30</text>
<text x="178.3" y="248.96" text-anchor="end" font-size="6.4">0.35</text>
<text x="178.3" y="227.7" text-anchor="end" font-size="6.4">0.40</text>
<text x="182.2" y="404.2" text-anchor="middle" font-size="6.4">6</text>
<text x="199.81" y="404.2" text-anchor="middle" font-size="6.4">7</text>
<text x="217.42" y="404.2" text-anchor="middle" font-size="6.4">8</text>
<text x="235.02" y="404.2" text-anchor="middle" font-size="6.4">9</text>
<text x="252.63" y="404.2" text-anchor="middle" font-size="6.4">10</text>
<text x="270.24" y="404.2" text-anchor="middle" font-size="6.4">11</text>
<text x="287.85" y="404.2" text-anchor="middle" font-size="6.4">12</text>
<text x="305.46" y="404.2" text-anchor="middle" font-size="6.4">13</text>
<text x="323.07" y="404.2" text-anchor="middle" font-size="6.4">14</text>
<text x="340.68" y="404.2" text-anchor="middle" font-size="6.4">15</text>
<text x="358.28" y="404.2" text-anchor="middle" font-size="6.4">16</text>
<text x="375.89" y="404.2" text-anchor="middle" font-size="6.4">17</text>
<text x="393.5" y="404.2" text-anchor="middle" font-size="6.4">18</text>
<text transform="translate(164,341.7) rotate(-90)" font-size="7.3" textLength="62.8" lengthAdjust="spacingAndGlyphs">Bubble velocity (m/s)</text>
<text x="273.4" y="412.6" font-size="7.2" textLength="29.5" lengthAdjust="spacingAndGlyphs">Time (ms)</text>
<text x="271.3" y="431.2" font-size="12.2" textLength="11.9" lengthAdjust="spacingAndGlyphs">(<tspan font-weight="bold">c</tspan>)</text>
<text x="345.6" y="299.6" font-size="5.7" style="stroke-width:0.06px" textLength="45.8" lengthAdjust="spacingAndGlyphs">mainstream velocity</text>
<line x1="364.8" y1="301.6" x2="364.8" y2="307.5" stroke="#8a8a8a" stroke-width="0.75"/>
<path d="M363.4 306.6L366.2 306.6L364.8 310.9Z" fill="#151515"/>
<rect x="189.6" y="228.6" width="65.2" height="19.1" fill="#fff" stroke="#9a9a9a" stroke-width="0.85"/>
<line x1="192.7" y1="238" x2="192.7" y2="247.7" stroke="#2a2a2a" stroke-width="0.6" opacity="0.6"/>
<circle cx="192.7" cy="242.4" r="1.5" fill="#2a2a2a"/>
<text transform="translate(194.2,237.1) rotate(-90)" font-size="4.2" fill="#444">B1</text>
<line x1="198.08" y1="238" x2="198.08" y2="247.7" stroke="#ff1a1a" stroke-width="0.6" opacity="0.6"/>
<circle cx="198.08" cy="242.4" r="1.5" fill="#ff1a1a"/>
<text transform="translate(199.58,237.1) rotate(-90)" font-size="4.2" fill="#444">B2</text>
<line x1="203.46" y1="238" x2="203.46" y2="247.7" stroke="#1060e8" stroke-width="0.6" opacity="0.6"/>
<polygon points="203.46,240.5 205.27,243.54 201.66,243.54" fill="#1060e8"/>
<text transform="translate(204.96,237.1) rotate(-90)" font-size="4.2" fill="#444">B3</text>
<line x1="208.85" y1="238" x2="208.85" y2="247.7" stroke="#00a050" stroke-width="0.6" opacity="0.6"/>
<polygon points="208.85,244.3 210.65,241.26 207.04,241.26" fill="#00a050"/>
<text transform="translate(210.35,237.1) rotate(-90)" font-size="4.2" fill="#444">B4</text>
<line x1="214.23" y1="238" x2="214.23" y2="247.7" stroke="#b050f0" stroke-width="0.6" opacity="0.6"/>
<polygon points="214.23,240.5 215.84,242.4 214.23,244.3 212.61,242.4" fill="#b050f0"/>
<text transform="translate(215.73,237.1) rotate(-90)" font-size="4.2" fill="#444">B5</text>
<line x1="219.61" y1="238" x2="219.61" y2="247.7" stroke="#e09000" stroke-width="0.6" opacity="0.6"/>
<polygon points="217.71,242.4 220.75,240.59 220.75,244.21" fill="#e09000"/>
<text transform="translate(221.11,237.1) rotate(-90)" font-size="4.2" fill="#444">B6</text>
<line x1="224.99" y1="238" x2="224.99" y2="247.7" stroke="#10cfd8" stroke-width="0.6" opacity="0.6"/>
<polygon points="226.89,242.4 223.85,240.59 223.85,244.21" fill="#10cfd8"/>
<text transform="translate(226.49,237.1) rotate(-90)" font-size="4.2" fill="#444">B7</text>
<line x1="230.37" y1="238" x2="230.37" y2="247.7" stroke="#7a2a2a" stroke-width="0.6" opacity="0.6"/>
<circle cx="230.37" cy="242.4" r="1.5" fill="#7a2a2a"/>
<text transform="translate(231.87,237.1) rotate(-90)" font-size="4.2" fill="#444">B8</text>
<line x1="235.75" y1="238" x2="235.75" y2="247.7" stroke="#8c8c00" stroke-width="0.6" opacity="0.6"/>
<circle cx="235.75" cy="242.4" r="1.2" fill="#8c8c00"/>
<text transform="translate(237.25,237.1) rotate(-90)" font-size="4.2" fill="#444">B9</text>
<line x1="241.14" y1="238" x2="241.14" y2="247.7" stroke="#ff5a00" stroke-width="0.6" opacity="0.6"/>
<circle cx="241.14" cy="242.4" r="1.5" fill="#ff5a00"/>
<text transform="translate(242.64,237.1) rotate(-90)" font-size="4.2" fill="#444">B10</text>
<line x1="246.52" y1="238" x2="246.52" y2="247.7" stroke="#3a95e0" stroke-width="0.6" opacity="0.6"/>
<circle cx="246.52" cy="242.4" r="1.5" fill="#3a95e0"/>
<text transform="translate(248.02,237.1) rotate(-90)" font-size="4.2" fill="#444">B11</text>
<line x1="251.9" y1="238" x2="251.9" y2="247.7" stroke="#6ad850" stroke-width="0.6" opacity="0.6"/>
<circle cx="251.9" cy="242.4" r="0.54" fill="#6ad850"/>
<text transform="translate(253.4,237.1) rotate(-90)" font-size="4.2" fill="#444">B12</text>
</svg></body></html>
